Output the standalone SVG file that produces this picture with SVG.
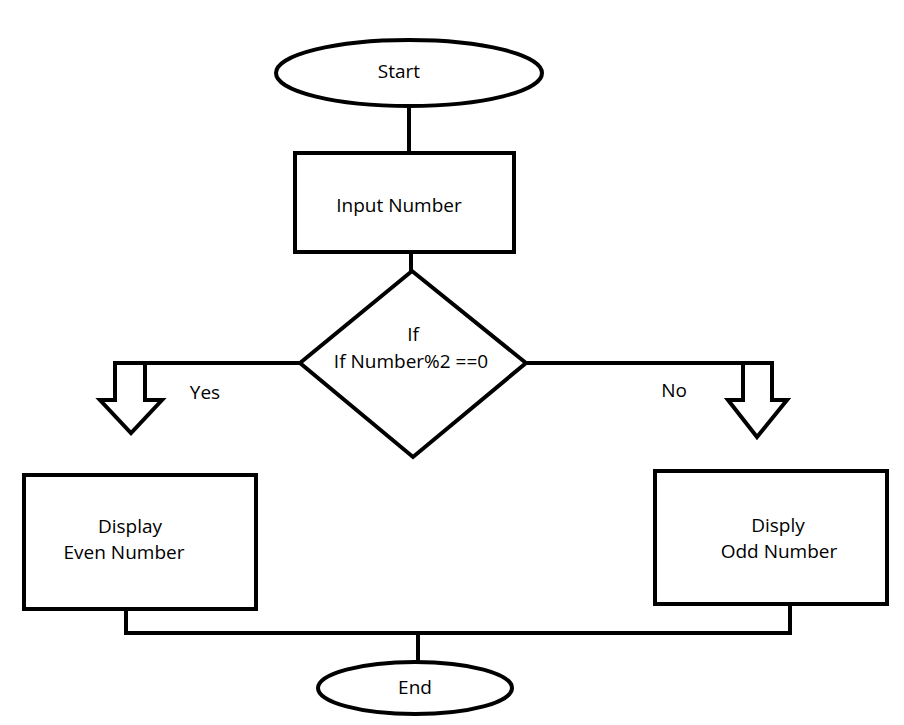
<svg xmlns="http://www.w3.org/2000/svg" width="904" height="725" viewBox="0 0 904 725">
<style>
.s{fill:#fff;stroke:#000;stroke-width:4}
.l{fill:none;stroke:#000;stroke-width:4}
text{font-family:"Open Sans","Noto Sans",sans-serif;font-size:19px;fill:#000;text-anchor:middle}
</style>
<rect width="904" height="725" fill="#fff"/>
<g id="connectors">
<path class="l" d="M409 105V153"/>
<path class="l" d="M411 252V272"/>
<path class="l" d="M300 363H115"/>
<path class="l" d="M526 363H772"/>
<path class="l" d="M126 609V633H790V604"/>
<path class="l" d="M418 633V662"/>
</g>
<g id="arrow-yes"><path class="s" d="M115 363H145V400H162L131 433L100 400H115Z"/></g>
<g id="arrow-no"><path class="s" d="M743 363H772V400H787L757 437L728 400H743Z"/></g>
<g id="start"><ellipse class="s" cx="409" cy="73" rx="133" ry="33"/><text x="399" y="78">Start</text></g>
<g id="input"><rect class="s" x="295" y="153" width="219" height="99"/><text x="399" y="212">Input Number</text></g>
<g id="decision"><path class="s" d="M412 271L526 363L413 457L300 363Z"/><text x="413" y="341">If</text><text x="411" y="368">If Number%2 ==0</text></g>
<g id="yes-label"><text x="205" y="399">Yes</text></g>
<g id="no-label"><text x="674" y="397">No</text></g>
<g id="even"><rect class="s" x="24" y="475" width="232" height="134"/><text x="130" y="533">Display</text><text x="124" y="559">Even Number</text></g>
<g id="odd"><rect class="s" x="655" y="471" width="232" height="133"/><text x="778" y="532">Disply</text><text x="779" y="558">Odd Number</text></g>
<g id="end"><ellipse class="s" cx="415" cy="688" rx="97" ry="26"/><text x="415" y="694">End</text></g>
</svg>
